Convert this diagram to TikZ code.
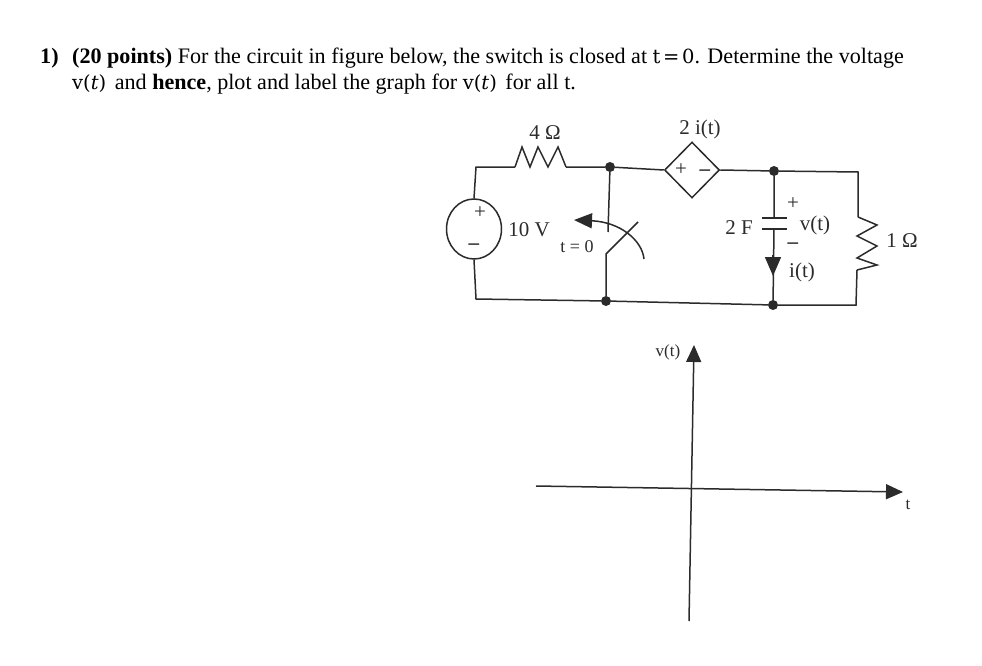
\documentclass[tikz,border=0pt]{standalone}
\usepackage{fontspec}
\setmainfont{Liberation Serif}
\newfontfamily\eqfamily{DejaVu Serif}
\usepackage{tikz}
\usetikzlibrary{arrows.meta,
  shapes.geometric
}
\definecolor{ink}{HTML}{2b2b2b}
\newcommand{\qfont}{\fontsize{22.1}{26}\selectfont}
\newcommand{\lfont}{\fontsize{21}{24}\selectfont}
\newcommand{\eqtext}[1]{{\eqfamily\fontsize{19.5}{26}\selectfont #1}}

\begin{document}
\begin{tikzpicture}[x=1pt, y=-1pt,
  wire/.style={draw=ink, line width=1.5pt},
  junction/.style={circle, fill=ink, minimum size=10pt, inner sep=0pt},
  lbl/.style={text=ink, inner sep=0pt, font=\lfont},
  question/.style={anchor=base west, inner sep=0pt, font=\qfont},
  source/.style={ellipse, draw=ink, line width=1.5pt, minimum width=55pt, minimum height=60pt, inner sep=0pt},
  dep/.style={diamond, draw=ink, line width=1.5pt, minimum width=55pt, minimum height=56pt, inner sep=0pt},
  plate/.style={draw=ink, line width=1.7pt},
  tip/.style={-{Triangle[length=17pt, width=15pt]}}]
  \useasboundingbox (0,0) rectangle (982,666);

  % question text
  \node[question] (num) at (40,64) {\textbf{1)}};
  \node[question] (q1) at (72,64) {\textbf{(20 points)} For the circuit in figure below, the switch is closed at \eqtext{t\kern-3.5pt\ =\ \kern-3.5pt 0}. Determine the voltage};
  \node[question] (q2) at (72,90) {\eqtext{v(\textit{t})\kern3pt} and \textbf{hence}, plot and label the graph for \eqtext{v(\textit{t})\kern3pt} for all t.};

  % circuit nodes
  \node[source] (vs) at (474,229) {};
  \node[dep] (dv) at (692,170) {};
  \node[junction] (jt1) at (610,167) {};
  \node[junction] (jb1) at (606,301) {};
  \node[junction] (jt2) at (774,171) {};
  \node[junction] (jb2) at (773,305) {};
  \coordinate (tl) at (476,167);
  \coordinate (bl) at (476,299);
  \coordinate (tr) at (858,172);
  \coordinate (br) at (856,305);
  \coordinate (r4a) at (515,167);
  \coordinate (r4b) at (566,167);
  \coordinate (r1a) at (858,217);
  \coordinate (r1b) at (857,270);
  \coordinate (swa) at (608,232);
  \coordinate (swb) at (606,254);
  \coordinate (swc) at (638,222);
  \coordinate (c1) at (774,218);
  \coordinate (c2) at (774,229);
  \coordinate (arc1) at (644,259);
  \coordinate (arc2) at (574,220);

  % wires
  \path[wire]
    (vs.north) -- (tl) -- (r4a)
    (r4b) -- (jt1) -- (dv.west)
    (dv.east) -- (jt2) -- (tr) -- (r1a)
    (r1b) -- (br) -- (jb2) -- (jb1) -- (bl) -- (vs.south)
    (jt1) -- (swa)
    (jb1) -- (swb) -- (swc)
    (jt2) -- (c1)
    (c2) -- (jb2) ;

  % resistors
  \draw[wire, line join=miter] (r4a) -- (522,147) -- (530,167) -- (538,147) -- (548,167) -- (558,147) -- (r4b);
  \draw[wire, line join=miter] (r1a) -- (877,225) -- (857,236) -- (877,246) -- (857,258) -- (877,265) -- (r1b);

  % capacitor
  \draw[plate] (762,218) -- (787,218);
  \draw[plate] (762,229) -- (787,229);

  % current arrow, switch arc
  \coordinate (itop) at (773,255);
  \coordinate (itip) at (773,276);
  \draw[ink, line width=1.5pt, -{Triangle[length=19pt, width=16pt]}] (itop) -- (itip);
  \draw[ink, line width=1.5pt, -{Triangle[length=18pt, width=15pt]}] (arc1) .. controls (642,240) and (620,222) .. (arc2);

  % graph
  \coordinate (vbot) at (689,621);
  \coordinate (vtop) at (694,345);
  \coordinate (tleft) at (536,486);
  \coordinate (tright) at (903,492);
  \draw[ink, line width=1.5pt, tip] (vbot) -- (vtop);
  \draw[ink, line width=1.5pt, tip] (tleft) -- (tright);

  % labels
  \node[lbl] (l4) at (545,133) {4 Ω};
  \node[lbl] (lv) at (529,230) {10 V};
  \node[lbl, font=\fontsize{18}{20}\selectfont] (lt0) at (577,247) {t = 0};
  \node[lbl] (lvp) at (480,213) {+};
  \node[lbl] (lvm) at (474,247) {\textbf{–}};
  \node[lbl] (ldv) at (700,129) {2 i(t)};
  \node[lbl] (ldp) at (681,170) {+};
  \node[lbl] (ldm) at (705,173) {\textbf{–}};
  \node[lbl] (lc) at (739,228) {2 F};
  \node[lbl] (lcp) at (793,204) {+};
  \node[lbl] (lcv) at (815,225) {v(t)};
  \node[lbl] (lcm) at (793,246) {\textbf{–}};
  \node[lbl] (li) at (802,272) {i(t)};
  \node[lbl] (l1) at (902,241) {1 Ω};
  \node[lbl, font=\fontsize{17}{20}\selectfont] (gv) at (668,352) {v(t)};
  \node[lbl, font=\fontsize{17}{20}\selectfont] (gt) at (908,505) {t};
\end{tikzpicture}
\end{document}
